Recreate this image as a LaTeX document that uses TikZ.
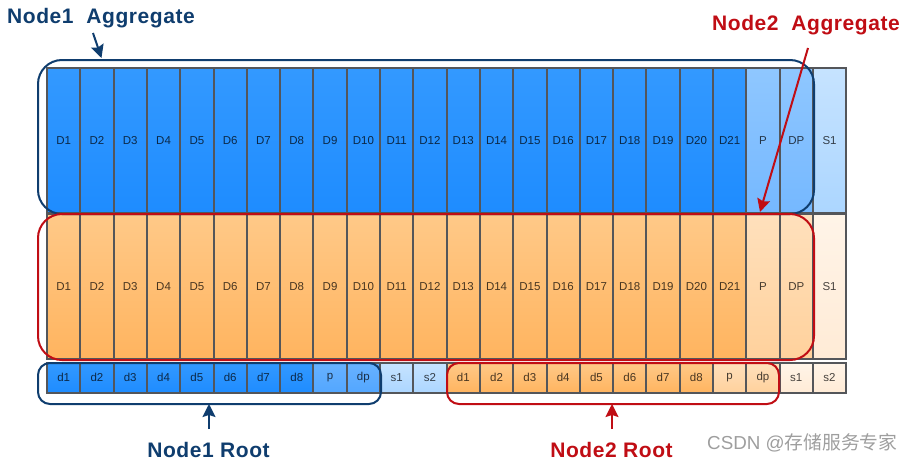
\documentclass[tikz,border=0pt]{standalone}
\usepackage{fontspec}
\setmainfont{Liberation Sans}
\newfontfamily\cjkfont{Noto Sans CJK SC}
\newfontfamily\labfont[LetterSpace=2.7]{Liberation Sans}
\usetikzlibrary{arrows.meta}
\definecolor{navy}{HTML}{0F3D6E}
\definecolor{redl}{HTML}{C00D14}
\definecolor{edgec}{HTML}{54565A}
\tikzset{
  x=1pt,y=-1pt,
  cell/.style={draw=edgec,line width=2pt,inner sep=0pt,minimum width=33.3pt,anchor=north west,text=black,text opacity=.72,font=\fontsize{11.5}{11.5}\selectfont},
  tall/.style={cell,minimum height=145pt},
  low/.style={cell,minimum height=30.5pt},
  blue1/.style={top color=blue1t,bottom color=blue1b},
  blue2/.style={top color=blue2t,bottom color=blue2b},
  blue3/.style={top color=blue3t,bottom color=blue3b},
  blue4/.style={top color=blue4t,bottom color=blue4b},
  oran1/.style={top color=oran1t,bottom color=oran1b},
  oran2/.style={top color=oran2t,bottom color=oran2b},
  oran3/.style={top color=oran3t,bottom color=oran3b},
  ring/.style={draw,line width=2pt,inner sep=0pt,anchor=north west,fill=none},
  big/.style={ring,rounded corners=24pt},
  small/.style={ring,rounded corners=12pt},
  lab/.style={font=\labfont\fontsize{21}{21}\bfseries\selectfont,inner sep=0pt},
  pointer/.style={line width=2pt,-{Stealth[length=13pt,width=13pt,inset=2pt]}},
}
\definecolor{blue1t}{HTML}{3399FF}\definecolor{blue1b}{HTML}{1E8CFF}
\definecolor{blue2t}{HTML}{8FC7FF}\definecolor{blue2b}{HTML}{75B8FF}
\definecolor{blue3t}{HTML}{C6E3FF}\definecolor{blue3b}{HTML}{ACD6FF}
\definecolor{blue4t}{HTML}{68B2FF}\definecolor{blue4b}{HTML}{52A6FF}
\definecolor{oran1t}{HTML}{FFC988}\definecolor{oran1b}{HTML}{FFB45F}
\definecolor{oran2t}{HTML}{FFE0BC}\definecolor{oran2b}{HTML}{FFD19C}
\definecolor{oran3t}{HTML}{FFF4E8}\definecolor{oran3b}{HTML}{FFEBD6}
\begin{document}
\begin{tikzpicture}
\useasboundingbox (0,0) rectangle (913,463);
% tall rows
\foreach \i/\t/\b/\o in {0/D1/blue1/oran1,1/D2/blue1/oran1,2/D3/blue1/oran1,3/D4/blue1/oran1,4/D5/blue1/oran1,5/D6/blue1/oran1,6/D7/blue1/oran1,7/D8/blue1/oran1,8/D9/blue1/oran1,9/D10/blue1/oran1,10/D11/blue1/oran1,11/D12/blue1/oran1,12/D13/blue1/oran1,13/D14/blue1/oran1,14/D15/blue1/oran1,15/D16/blue1/oran1,16/D17/blue1/oran1,17/D18/blue1/oran1,18/D19/blue1/oran1,19/D20/blue1/oran1,20/D21/blue1/oran1,21/P/blue2/oran2,22/DP/blue2/oran2,23/S1/blue3/oran3}{
  \node[tall,\b] (ta\i) at ({46+\i*33.3},67) {\t};
  \node[tall,\o] (tb\i) at ({46+\i*33.3},213) {\t};
}
% parity row
\foreach \i/\t/\s in {0/d1/blue1,1/d2/blue1,2/d3/blue1,3/d4/blue1,4/d5/blue1,5/d6/blue1,6/d7/blue1,7/d8/blue1,8/p/blue4,9/dp/blue4,10/s1/blue3,11/s2/blue3,12/d1/oran1,13/d2/oran1,14/d3/oran1,15/d4/oran1,16/d5/oran1,17/d6/oran1,18/d7/oran1,19/d8/oran1,20/p/oran2,21/dp/oran2,22/s1/oran3,23/s2/oran3}{
  \node[low,\s] (lc\i) at ({46+\i*33.3},361.5) {\t};
}
% outlines
\node[big,draw=navy,minimum width=776pt,minimum height=154pt] (agg1) at (37,59) {};
\node[big,draw=redl,minimum width=776pt,minimum height=146pt] (agg2) at (37,213) {};
\node[small,draw=navy,minimum width=343pt,minimum height=41pt] (root1) at (37,362) {};
\node[small,draw=redl,minimum width=332pt,minimum height=41pt] (root2) at (446,362) {};
% labels
\node[lab,text=navy,anchor=west] (lab1) at (7,18) {Node1\ \ Aggregate};
\node[lab,text=redl,anchor=west] (lab2) at (712,25) {Node2\ \ Aggregate};
\node[lab,text=navy] (lab3) at (208.5,450) {Node1 Root};
\node[lab,text=redl] (lab4) at (611.5,450) {Node2 Root};
\node[anchor=west,inner sep=0pt,text=black!38,font=\fontsize{18.8}{18.8}\selectfont] (mark) at (707,443) {CSDN @{\cjkfont 存储服务专家}};
% pointers
\coordinate (s1) at (93,33);
\coordinate (e1) at (101.5,58);
\coordinate (s2) at (808,48);
\coordinate (e2) at (760,212);
\coordinate (s3) at (209,429);
\coordinate (e3) at (209,404);
\coordinate (s4) at (612,429);
\coordinate (e4) at (612,404);
\draw[pointer,navy] (s1) -- (e1);
\draw[pointer,redl] (s2) -- (e2);
\draw[pointer,navy] (s3) -- (e3);
\draw[pointer,redl] (s4) -- (e4);
\end{tikzpicture}
\end{document}
